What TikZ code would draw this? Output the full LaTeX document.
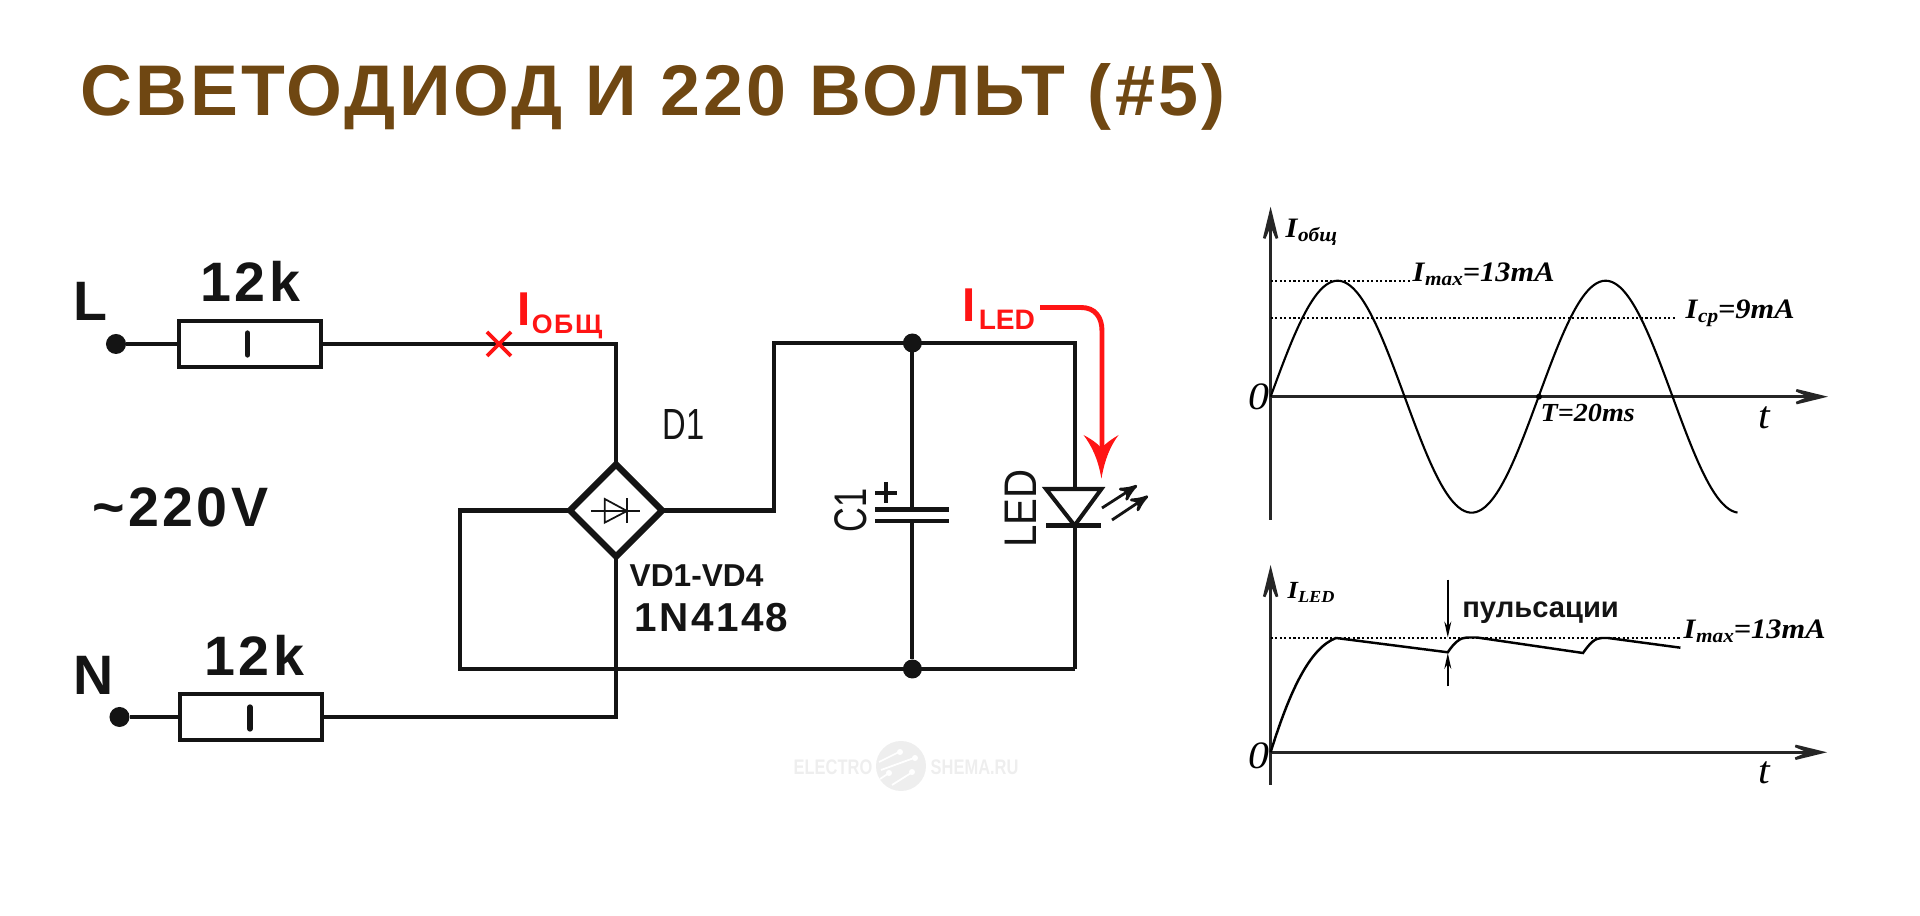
\documentclass[tikz,border=0pt]{standalone}
\usepackage{fontspec}
\usepackage{graphicx}
\usepackage{tikz}
\usetikzlibrary{
    arrows,
    arrows.meta,
    shapes.geometric
}
\setmainfont{Liberation Sans}
\newfontfamily\titlefont[LetterSpace=4.4]{Liberation Sans}
\newfontfamily\partfont[LetterSpace=6]{Liberation Sans}
\newfontfamily\graphfont[FakeStretch=1.08]{Liberation Serif}
\definecolor{titlebrown}{HTML}{6F4712}
\definecolor{circuitblack}{HTML}{141414}
\definecolor{currentred}{HTML}{FF1414}
\definecolor{markgray}{HTML}{EEEEEE}
\newcommand{\isub}[1]{I\kern.02em\raisebox{-.3ex}{\fontsize{5.6}{6}\selectfont #1}}

\begin{document}
\begin{tikzpicture}[x=0.01cm,y=-0.01cm,>=stealth',line join=miter]
    \tikzstyle{wire}=[draw=circuitblack, line width=1.15pt]
    \tikzstyle{thin wire}=[draw=circuitblack, line width=0.5pt]
    \tikzstyle{tick}=[draw=circuitblack, line width=1.5pt, line cap=round]
    \tikzstyle{terminal}=[shape=circle, fill=circuitblack, inner sep=0pt, outer sep=0pt, minimum size=0.2cm]
    \tikzstyle{junction}=[shape=circle, fill=circuitblack, inner sep=0pt, outer sep=0pt, minimum size=0.19cm]
    \tikzstyle{resistor}=[shape=rectangle, draw=circuitblack, line width=1.15pt, minimum width=1.41cm, minimum height=0.46cm, inner sep=0pt, outer sep=0pt]
    \tikzstyle{bridge}=[shape=diamond, draw=circuitblack, line width=1.8pt, minimum width=0.92cm, minimum height=0.92cm, inner sep=0pt, outer sep=0pt, aspect=1]
    \tikzstyle{text base}=[anchor=base west, inner sep=0pt, text=circuitblack]
    \tikzstyle{big label}=[text base, font=\partfont\bfseries\fontsize{15.8}{15.8}\selectfont]
    \tikzstyle{red label}=[text base, text=currentred, font=\bfseries\fontsize{13.5}{13.5}\selectfont]
    \tikzstyle{curve}=[draw=black, line width=0.6pt]
    \tikzstyle{axis}=[draw=black!85, line width=0.75pt, -{Stealth[length=0.47cm,width=0.23cm,inset=0.27cm]}]
    \tikzstyle{level}=[draw=black, line width=0.5pt, dash pattern=on 0.6pt off 0.7pt]
    \tikzstyle{graph label}=[text base, text=black, font=\graphfont\bfseries\itshape\fontsize{8}{8}\selectfont]
    \tikzstyle{graph mark}=[text base, text=black, font=\graphfont\itshape\fontsize{11}{11}\selectfont]
    \tikzstyle{pulse}=[draw=black, line width=0.4pt, -{Stealth[length=0.16cm,width=0.07cm]}]
    \useasboundingbox (0,0) rectangle (1920,916);

    \node[text base, text=titlebrown, font=\titlefont\bfseries\fontsize{20.4}{20.4}\selectfont] (title) at (80,116) {СВЕТОДИОД И 220 ВОЛЬТ (\#5)};

    \node[terminal] (L) at (116,344) {};
    \node[terminal] (N) at (119.5,717) {};
    \node[resistor] (r1) at (250,344) {};
    \node[resistor] (r2) at (251,717) {};
    \node[bridge] (vd) at (616,510.5) {};
    \node[junction] (jtop) at (912.4,343) {};
    \node[junction] (jbot) at (912.4,669) {};
    \coordinate (a) at (616,344);
    \coordinate (b) at (616,717);
    \coordinate (c) at (460,510.5);
    \coordinate (d) at (460,669);
    \coordinate (e) at (773.6,510.5);
    \coordinate (f) at (773.6,343);
    \coordinate (g) at (1074.6,343);
    \coordinate (h) at (1074.6,669);
    \coordinate (c1up) at (912.4,509.3);
    \coordinate (c1down) at (912.4,521);
    \coordinate (ledtop) at (1074.6,489);
    \coordinate (ledbar) at (1074.6,525.5);

    \draw[wire] (L) -- (r1);
    \draw[wire] (r1) -- (a) -- (vd.north);
    \draw[wire] (N) -- (r2);
    \draw[wire] (r2) -- (b) -- (vd.south);
    \draw[wire] (vd.west) -- (c) -- (d) -- (h);
    \draw[wire] (vd.east) -- (e) -- (f) -- (g) -- (ledtop);
    \draw[wire] (ledbar) -- (h);
    \draw[wire] (jtop) -- (c1up);
    \draw[wire] (c1down) -- (jbot);

    \draw[tick] (247.5,333) -- (247.5,355);
    \draw[tick] (250,707) -- (250,729);

    \draw[thin wire] (591,511) -- (640,511);
    \draw[thin wire] (604.8,499) -- (604.8,522.6) -- (627,511) -- cycle;
    \draw[wire, line width=0.7pt] (627,498.5) -- (627,523);

    \draw[wire, line width=1.3pt] (875,509.3) -- (949,509.3);
    \draw[wire, line width=1.3pt] (875,521) -- (949,521);
    \draw[wire] (875,492.6) -- (896.5,492.6);
    \draw[wire] (886,482) -- (886,503);

    \draw[wire] (1046,489) -- (1101.4,489) -- (ledbar) -- cycle;
    \draw[wire] (1046,525.5) -- (1101.4,525.5);
    \draw[wire, line width=0.8pt, ->] (1102,508) -- (1137,485.5);
    \draw[wire, line width=0.8pt, ->] (1112,520) -- (1148,496);

    \draw[draw=currentred, line width=1.1pt] (487,332) -- (511,356);
    \draw[draw=currentred, line width=1.1pt] (487,356) -- (511,332);

    \draw[draw=currentred, line width=1.4pt] (1040,307.5) -- (1081,307.5) .. controls (1095,307.5) and (1102,317) .. (1102,331) -- (1102,450);
    \fill[currentred] (1101.4,478.7) .. controls (1098,458) and (1091,445) .. (1083.5,435) .. controls (1091,439) and (1097,443) .. (1101.4,448) .. controls (1106,443) and (1112,439) .. (1118.6,435) .. controls (1111,445) and (1105,458) .. (1101.4,478.7) -- cycle;

    \node[big label] (lL) at (73,320.5) {L};
    \node[big label] (lN) at (73,695) {N};
    \node[big label] (r1val) at (200,302) {12k};
    \node[big label] (r2val) at (204,676) {12k};
    \node[big label] (volt) at (92,526.5) {\textasciitilde 220V};
    \node[red label] (iall) at (517,326) {I\kern.02em\raisebox{-0.08cm}{\partfont\bfseries\fontsize{7.6}{8}\selectfont ОБЩ}};
    \node[red label] (iled) at (962,322) {I\kern.06em\raisebox{-0.08cm}{\fontsize{8}{8}\selectfont LED}};
    \node[text base, font=\fontsize{12.4}{12.4}\selectfont] (d1) at (662,440) {\scalebox{.75}[1]{D1}};
    \node[text base, font=\bfseries\fontsize{9}{9}\selectfont] (vdname) at (629,587) {VD1-VD4};
    \node[text base, font=\partfont\bfseries\fontsize{11.5}{11.5}\selectfont] (vdtype) at (634,632) {1N4148};
    \node[rotate=90, inner sep=0pt, text=circuitblack, font=\fontsize{13}{13}\selectfont] (c1) at (850.5,510.5) {\scalebox{.75}[1]{C1}};
    \node[rotate=90, inner sep=0pt, text=circuitblack, font=\fontsize{13}{13}\selectfont] (led) at (1021,508.5) {\scalebox{.88}[1]{LED}};

    \node[shape=circle, fill=markgray, inner sep=0pt, minimum size=0.5cm] (logo) at (901,766) {};
    \draw[white, line width=0.5pt] (879,762) -- (899,752);
    \draw[white, line width=0.5pt] (881,770) -- (914,758);
    \draw[white, line width=0.5pt] (880,779) -- (889,773);
    \draw[white, line width=0.5pt] (892,785) -- (911,773);
    \fill[white] (900,752) circle[radius=3];
    \fill[white] (915,758) circle[radius=3];
    \fill[white] (889,773) circle[radius=3];
    \fill[white] (912,772) circle[radius=3];
    \node[text base, text=markgray, font=\bfseries\fontsize{6}{6}\selectfont] (mark1) at (793,775) {\scalebox{.78}[1]{ELECTRO}};
    \node[text base, text=markgray, font=\bfseries\fontsize{6}{6}\selectfont] (mark2) at (930,775) {\scalebox{.78}[1]{SHEMA.RU}};

    \coordinate (ya1) at (1270.6,520);
    \coordinate (yb1) at (1270.6,206.7);
    \coordinate (xa1) at (1270.6,396.7);
    \coordinate (xb1) at (1828,396.7);
    \coordinate (max1) at (1270.6,280.7);
    \coordinate (maxe1) at (1410,280.7);
    \coordinate (sr1) at (1270.6,318);
    \coordinate (sre1) at (1677,318);
    \draw[axis] (ya1) -- (yb1);
    \draw[axis] (xa1) -- (xb1);
    \draw[level] (max1) -- (maxe1);
    \draw[level] (sr1) -- (sre1);
    \draw[curve] plot[domain=0:466.9, samples=160, smooth] ({1270.6+\x},{396.7-116*sin(1.3433*\x)});
    \fill[black] (1539,396.7) circle[radius=3];

    \node[graph label] (iall1) at (1285,238) {\isub{общ}};
    \node[graph label] (imax1) at (1412,281.7) {\isub{max}=13mA};
    \node[graph label] (icp1) at (1685,319) {\isub{cp}=9mA};
    \node[graph label, font=\graphfont\bfseries\itshape\fontsize{7.4}{7.4}\selectfont] (tper) at (1540,422) {T=20ms};
    \node[graph mark] (zero1) at (1248,410) {0};
    \node[graph mark] (t1) at (1758,429) {t};

    \coordinate (ya2) at (1270.6,785);
    \coordinate (yb2) at (1270.6,565);
    \coordinate (xa2) at (1270.6,752.3);
    \coordinate (xb2) at (1827,752.3);
    \coordinate (max2) at (1270.6,638);
    \coordinate (maxe2) at (1681,638);
    \draw[axis] (ya2) -- (yb2);
    \draw[axis] (xa2) -- (xb2);
    \draw[level] (max2) -- (maxe2);
    \draw[curve, line width=0.7pt] (xa2) .. controls (1290,690) and (1310,648) .. (1336,638) -- (1447.8,652.3) .. controls (1454,643) and (1460,637.5) .. (1467,637.5) -- (1477,637.5) -- (1583,653) .. controls (1590,643) and (1595,638) .. (1601.6,638) -- (1608,638) -- (1680.4,647.7);
    \coordinate (pa) at (1447.8,579.7);
    \coordinate (pb) at (1447.8,637.5);
    \coordinate (pc) at (1447.8,686.3);
    \coordinate (pd) at (1447.8,653);
    \draw[pulse] (pa) -- (pb);
    \draw[pulse] (pc) -- (pd);

    \node[graph label, font=\graphfont\bfseries\itshape\fontsize{7}{7}\selectfont] (iled2) at (1287,599) {I\raisebox{-.3ex}{\fontsize{4.8}{5}\selectfont LED}};
    \node[graph label] (imax2) at (1683,638.5) {\isub{max}=13mA};
    \node[text base, font=\bfseries\fontsize{8.3}{8.3}\selectfont] (ripple) at (1461.6,617.7) {пульсации};
    \node[graph mark] (zero2) at (1248,769) {0};
    \node[graph mark] (t2) at (1758,784) {t};
\end{tikzpicture}
\end{document}
